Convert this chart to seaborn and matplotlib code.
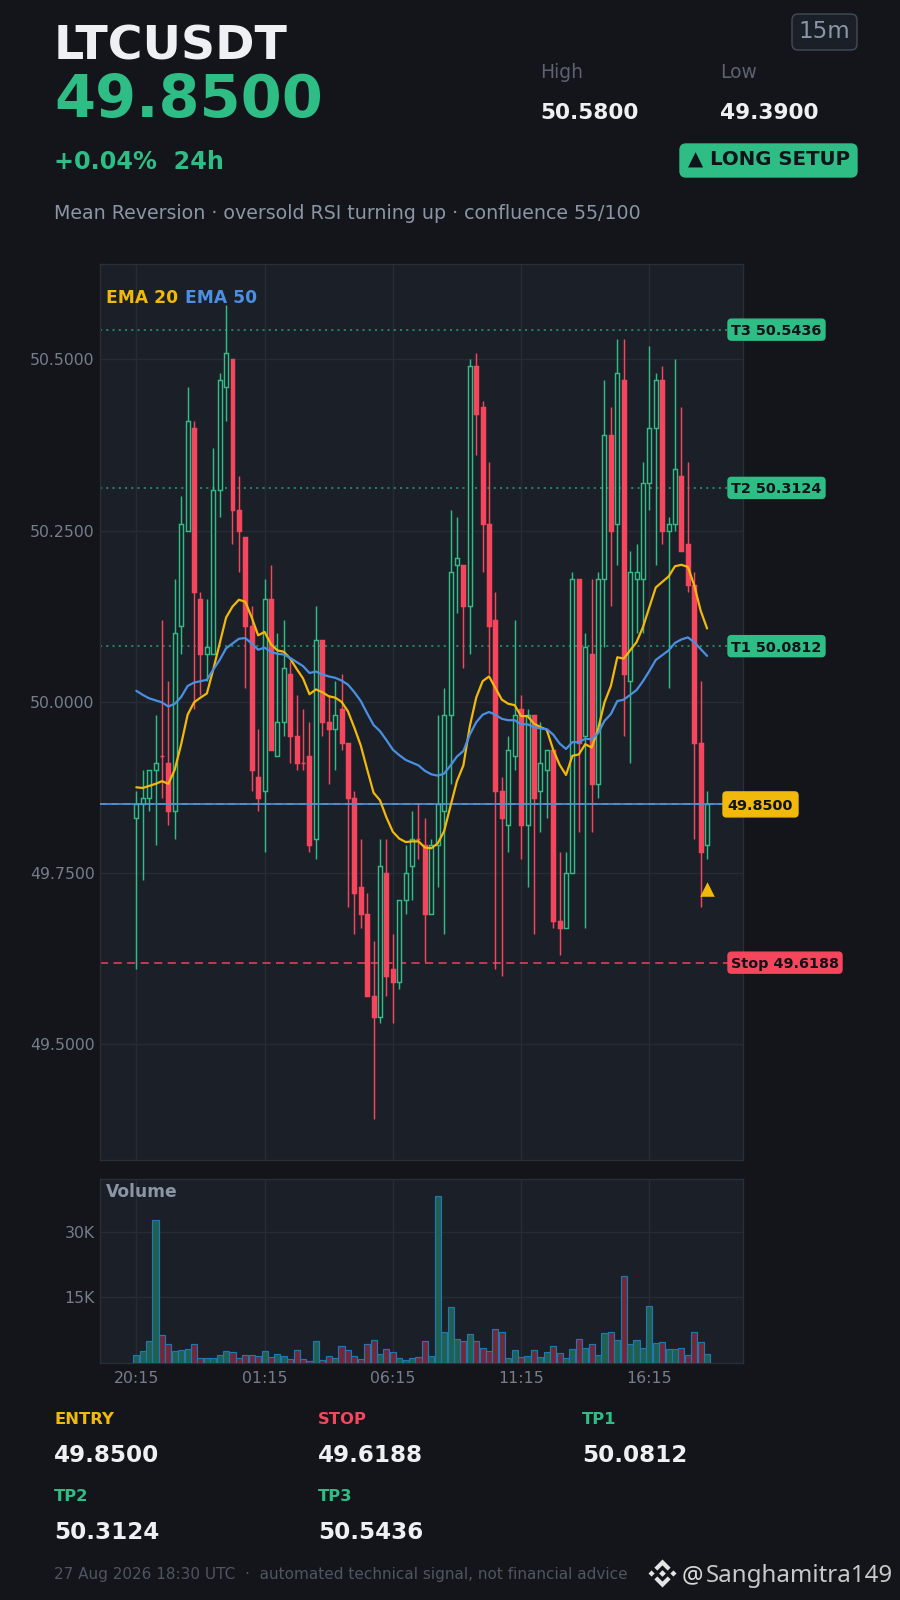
import matplotlib
matplotlib.use("Agg")
import matplotlib.pyplot as plt
from matplotlib.patches import FancyBboxPatch, Polygon
import numpy as np
import pandas as pd
import seaborn as sns

# Values, one entry per 15m candle
times = ["20:15", "01:15", "06:15", "11:15", "16:15"]
y_ticks = [49.5, 49.75, 50.0, 50.25, 50.5]
vol_ticks = [15000, 30000]
vol_tick_labels = ["15K", "30K"]

opens = [49.83, 49.85, 49.86, 49.90, 49.92, 49.91, 49.84, 50.11, 50.25, 50.40,
         50.15, 50.07, 50.07, 50.31, 50.46, 50.50, 50.28, 50.24, 50.11, 49.89,
         49.87, 50.15, 49.92, 49.97, 50.04, 49.95, 49.91, 49.92, 49.80, 50.09,
         49.97, 49.96, 49.99, 49.94, 49.86, 49.73, 49.69, 49.57, 49.54, 49.75,
         49.61, 49.59, 49.71, 49.76, 49.80, 49.79, 49.69, 49.79, 49.84, 49.98,
         50.20, 50.20, 50.14, 50.49, 50.43, 50.26, 50.12, 49.87, 49.82, 49.92,
         49.99, 49.82, 49.98, 49.87, 49.90, 49.93, 49.68, 49.67, 49.75, 50.18,
         49.95, 50.07, 49.88, 50.18, 50.39, 50.26, 50.47, 50.03, 50.18, 50.18,
         50.32, 50.40, 50.47, 50.25, 50.26, 50.33, 50.23, 50.17, 49.94, 49.79]
closes = [49.85, 49.86, 49.90, 49.91, 49.92, 49.84, 50.10, 50.26, 50.41, 50.16,
          50.07, 50.08, 50.31, 50.47, 50.51, 50.28, 50.25, 50.11, 49.90, 49.86,
          50.15, 49.93, 49.97, 50.05, 49.95, 49.91, 49.91, 49.79, 50.09, 49.97,
          49.96, 49.98, 49.94, 49.86, 49.72, 49.69, 49.57, 49.54, 49.76, 49.60,
          49.59, 49.71, 49.75, 49.80, 49.80, 49.69, 49.79, 49.85, 49.98, 50.19,
          50.21, 50.14, 50.49, 50.42, 50.26, 50.11, 49.87, 49.83, 49.93, 49.98,
          49.82, 49.98, 49.86, 49.91, 49.93, 49.68, 49.67, 49.75, 50.18, 49.94,
          50.08, 49.88, 50.18, 50.39, 50.25, 50.48, 50.04, 50.19, 50.19, 50.32,
          50.40, 50.47, 50.25, 50.26, 50.34, 50.22, 50.17, 49.94, 49.78, 49.85]
highs = [49.87, 49.90, 49.90, 49.98, 50.12, 50.03, 50.18, 50.30, 50.46, 50.41,
         50.16, 50.15, 50.37, 50.48, 50.58, 50.50, 50.33, 50.24, 50.14, 49.96,
         50.18, 50.20, 50.10, 50.12, 50.06, 50.01, 49.99, 49.97, 50.14, 50.09,
         50.01, 50.03, 50.04, 49.94, 49.87, 49.80, 49.72, 49.65, 49.80, 49.80,
         49.66, 49.71, 49.79, 49.84, 49.85, 49.83, 49.80, 49.98, 50.02, 50.28,
         50.27, 50.20, 50.50, 50.51, 50.44, 50.35, 50.16, 49.89, 49.95, 50.12,
         50.01, 49.99, 49.98, 49.97, 49.93, 49.93, 49.78, 49.78, 50.19, 50.18,
         50.10, 50.18, 50.19, 50.47, 50.43, 50.53, 50.53, 50.22, 50.23, 50.35,
         50.52, 50.48, 50.49, 50.27, 50.50, 50.43, 50.35, 50.19, 50.03, 49.87]
lows = [49.61, 49.74, 49.84, 49.79, 49.86, 49.82, 49.80, 50.07, 50.25, 49.99,
        50.01, 50.03, 50.07, 50.27, 50.41, 50.23, 50.19, 50.02, 49.87, 49.84,
        49.78, 49.93, 49.92, 49.95, 49.91, 49.90, 49.90, 49.78, 49.77, 49.95,
        49.88, 49.90, 49.93, 49.70, 49.66, 49.67, 49.57, 49.39, 49.53, 49.57,
        49.53, 49.58, 49.69, 49.71, 49.77, 49.62, 49.69, 49.73, 49.66, 49.88,
        50.13, 50.05, 50.07, 50.36, 50.19, 50.04, 49.61, 49.60, 49.78, 49.90,
        49.77, 49.73, 49.66, 49.81, 49.83, 49.67, 49.63, 49.67, 49.75, 49.81,
        49.67, 49.81, 49.86, 50.08, 50.14, 50.20, 49.95, 49.91, 50.10, 50.10,
        50.28, 50.20, 50.23, 50.02, 50.25, 50.22, 50.16, 49.80, 49.70, 49.77]
ema20 = [49.875, 49.874, 49.877, 49.880, 49.884, 49.880, 49.901, 49.938, 49.981, 49.999,
         50.006, 50.012, 50.047, 50.085, 50.123, 50.139, 50.149, 50.146, 50.123, 50.097,
         50.102, 50.084, 50.075, 50.073, 50.063, 50.048, 50.034, 50.011, 50.018, 50.014,
         50.008, 50.006, 50.000, 49.986, 49.962, 49.936, 49.901, 49.867, 49.856, 49.831,
         49.810, 49.800, 49.795, 49.796, 49.796, 49.787, 49.786, 49.793, 49.811, 49.848,
         49.884, 49.907, 49.964, 50.006, 50.030, 50.037, 50.020, 50.003, 49.997, 49.995,
         49.979, 49.979, 49.968, 49.963, 49.959, 49.930, 49.908, 49.893, 49.921, 49.923,
         49.938, 49.933, 49.960, 49.999, 50.023, 50.065, 50.063, 50.075, 50.087, 50.109,
         50.138, 50.167, 50.175, 50.183, 50.198, 50.200, 50.197, 50.170, 50.133, 50.107]
ema50 = [50.016, 50.010, 50.005, 50.002, 49.999, 49.993, 49.997, 50.007, 50.023, 50.028,
         50.030, 50.032, 50.047, 50.061, 50.078, 50.085, 50.092, 50.093, 50.085, 50.076,
         50.079, 50.073, 50.070, 50.069, 50.064, 50.058, 50.052, 50.042, 50.044, 50.040,
         50.037, 50.035, 50.031, 50.025, 50.014, 50.001, 49.983, 49.966, 49.957, 49.944,
         49.930, 49.922, 49.915, 49.911, 49.907, 49.899, 49.894, 49.892, 49.895, 49.907,
         49.920, 49.928, 49.952, 49.970, 49.981, 49.985, 49.981, 49.975, 49.973, 49.973,
         49.967, 49.967, 49.963, 49.961, 49.960, 49.952, 49.939, 49.931, 49.941, 49.941,
         49.946, 49.945, 49.954, 49.972, 49.982, 50.001, 50.003, 50.010, 50.017, 50.030,
         50.045, 50.061, 50.068, 50.075, 50.086, 50.091, 50.094, 50.087, 50.077, 50.067]
volumes = [1800, 2700, 5000, 32700, 6400, 4350, 2700, 3000, 3200, 4350,
           1070, 1070, 1070, 1800, 2700, 2500, 1070, 1800, 1800, 1600,
           2700, 1400, 2060, 1600, 900, 3000, 900, 450, 5000, 700,
           1600, 1150, 3900, 3000, 1600, 900, 4350, 5300, 2060, 3200,
           2500, 1150, 700, 1150, 1400, 5000, 1600, 38300, 7100, 12800,
           5500, 5000, 6600, 5000, 3400, 2700, 7800, 7100, 1150, 3000,
           1400, 1600, 3000, 1400, 2500, 3900, 2300, 1150, 3200, 5500,
           3400, 4350, 1800, 6900, 7100, 5300, 19900, 4350, 5300, 3400,
           13000, 4600, 4800, 3200, 3200, 3400, 1800, 7100, 4800, 2060]

price = 49.85
entry = 49.85
stop = 49.6188
tp1 = 50.0812
tp2 = 50.3124
tp3 = 50.5436
signal_price = 49.726

BG = "#13151a"
PANEL = "#1b1f27"
GRID = "#272b34"
GREEN = "#2ebd85"
RED = "#f6465d"
YELLOW = "#f0b90b"
BLUE = "#4a90e2"
WHITE = "#eef0f4"
MUTED = "#8b95a5"
DIM = "#5b6270"
TICK = "#767e8c"

sns.set_theme(style="dark", rc={"figure.facecolor": BG, "axes.facecolor": PANEL, "savefig.facecolor": BG})
plt.rcParams["font.family"] = ["DejaVu Sans"]

df = pd.DataFrame({"i": np.arange(len(opens)), "open": opens, "high": highs, "low": lows,
                   "close": closes, "ema20": ema20, "ema50": ema50, "volume": volumes})
df["dir"] = np.where(df["close"] > df["open"], "up", "down")

W, H = 900, 1600
fig = plt.figure(figsize=(W / 100, H / 100), dpi=100)


def px_axes(x0, y0, x1, y1):
    return fig.add_axes([x0 / W, 1 - y1 / H, (x1 - x0) / W, (y1 - y0) / H])


ax = px_axes(100, 264, 743, 1160)
vol = px_axes(100, 1179, 743, 1363)
over = fig.add_axes([0, 0, 1, 1], zorder=10)
over.set_xlim(0, W)
over.set_ylim(H, 0)
over.axis("off")

# ====== Candles ======
up = df[df["dir"] == "up"]
down = df[df["dir"] == "down"]
ax.vlines(up["i"], up["low"], up["high"], color=GREEN, lw=1.05, zorder=2)
ax.vlines(down["i"], down["low"], down["high"], color=RED, lw=1.05, zorder=2)
ax.bar(up["i"], up["close"] - up["open"], bottom=up["open"], width=0.62,
       facecolor=PANEL, edgecolor=GREEN, linewidth=1.05, zorder=3)
ax.bar(down["i"], down["close"] - down["open"], bottom=down["open"], width=0.62,
       facecolor=RED, edgecolor=RED, linewidth=1.05, zorder=3)

# Levels
for lvl in [tp1, tp2, tp3]:
    ax.axhline(lvl, color=GREEN, lw=1.25, alpha=0.7, ls=(0, (1.2, 2.4)), zorder=1.5)
ax.axhline(stop, color=RED, lw=1.3, alpha=0.8, ls=(0, (4.5, 3)), zorder=1.5)
ax.axhline(entry, color=YELLOW, lw=1.2, alpha=0.7, ls=(0, (4, 3)), zorder=4)
ax.axhline(price, color=BLUE, lw=1.3, alpha=0.95, zorder=4)

# EMAs
sns.lineplot(data=df, x="i", y="ema20", color=YELLOW, lw=1.6, ax=ax, zorder=5, errorbar=None, legend=False)
sns.lineplot(data=df, x="i", y="ema50", color=BLUE, lw=1.6, ax=ax, zorder=5, errorbar=None, legend=False)

# Long signal marker on the last candle
sns.scatterplot(x=[df["i"].iloc[-1]], y=[signal_price], marker="^", s=110, color=YELLOW,
                linewidth=0, ax=ax, zorder=6, legend=False)

# ====== Volume ======
sns.barplot(data=df, x="i", y="volume", hue="dir", native_scale=True, dodge=False, width=0.95,
            palette={"up": "#1f6050", "down": "#73283a"}, saturation=1,
            edgecolor="#1f77b4", linewidth=0.85, ax=vol, legend=False, zorder=3)

tick_pos = np.arange(len(times)) * 20
for a in (ax, vol):
    a.set_xlim(-5.66, 94.6)
    a.set_xticks(tick_pos)
    a.set_xlabel("")
    a.set_ylabel("")
    a.grid(True, color=GRID, lw=1.0)
    a.set_axisbelow(True)
    a.tick_params(length=0, colors=TICK, labelsize=11.3, pad=4)
    for s in a.spines.values():
        s.set_color("#2a2e37")
        s.set_linewidth(1.0)
ax.set_ylim(49.3305, 50.6395)
ax.set_yticks(y_ticks)
ax.set_yticklabels([f"{t:.4f}" for t in y_ticks])
ax.tick_params(labelbottom=False)
vol.set_ylim(0, 42130)
vol.set_yticks(vol_ticks)
vol.set_yticklabels(vol_tick_labels)
vol.set_xticklabels(times)
vol.tick_params(axis="x", pad=6)

ax.text(106, 298, "EMA 20", color=YELLOW, fontsize=12.3, fontweight="bold", va="center",
        transform=over.transData, zorder=7)
ax.text(185, 298, "EMA 50", color=BLUE, fontsize=12.3, fontweight="bold", va="center",
        transform=over.transData, zorder=7)
vol.text(106, 1192, "Volume", color=MUTED, fontsize=12.3, fontweight="bold", va="center",
         transform=over.transData, zorder=7)


# ====== Overlay texts and badges (pixel coordinates) ======
def label(x, y, s, color, size, weight="normal", ha="left", va="baseline", family=None):
    over.text(x, y, s, color=color, fontsize=size, fontweight=weight, ha=ha, va=va, family=family)


def box(x0, y0, x1, y1, face, edge=None, radius=5):
    over.add_patch(FancyBboxPatch((x0 + radius, y0 + radius), x1 - x0 - 2 * radius, y1 - y0 - 2 * radius,
                                  boxstyle=f"round,pad={radius},rounding_size={radius}",
                                  facecolor=face, edgecolor=edge or face, lw=1.0))


def level_badge(x0, x1, level, text, face, height=21):
    yc = H - ax.transData.transform((0, level))[1]
    box(x0, yc - height / 2, x1, yc + height / 2, face, radius=3.5)
    over.text((x0 + x1) / 2, yc, text, color="#10141a", fontsize=10.4, fontweight="bold",
              ha="center", va="center_baseline")


level_badge(728, 825, tp3, f"T3 {tp3:.4f}", GREEN)
level_badge(728, 825, tp2, f"T2 {tp2:.4f}", GREEN)
level_badge(728, 825, tp1, f"T1 {tp1:.4f}", GREEN)
level_badge(728, 842, stop, f"Stop {stop:.4f}", RED)
level_badge(723, 798, price, f"{price:.4f}", YELLOW, height=25)

label(54, 59, "LTCUSDT", WHITE, 34.1, "bold")
label(54, 117, f"{price:.4f}", GREEN, 42.5, "bold")
label(54, 169, "+0.04%  24h", GREEN, 17.2, "bold")
label(54, 219, "Mean Reversion · oversold RSI turning up · confluence 55/100", MUTED, 13.7)
label(540, 78, "High", DIM, 13.5)
label(720, 78, "Low", DIM, 13.5)
label(540, 119, "50.5800", WHITE, 15.6, "bold")
label(720, 119, "49.3900", WHITE, 15.6, "bold")

box(792, 14, 857, 50, PANEL, "#454b57", radius=6)
label(824.5, 32, "15m", MUTED, 16.5, ha="center", va="center")
box(680, 144, 857, 177, GREEN, radius=6)
label(768.5, 159, "▲ LONG SETUP", "#10141a", 14.2, "bold", ha="center", va="center")

# Bottom stats
stat_rows = [(54, 1424, 1462, "ENTRY", YELLOW, entry), (318, 1424, 1462, "STOP", RED, stop),
             (582, 1424, 1462, "TP1", GREEN, tp1), (54, 1501, 1539, "TP2", GREEN, tp2),
             (318, 1501, 1539, "TP3", GREEN, tp3)]
for x, y_lab, y_val, name, col, val in stat_rows:
    label(x, y_lab, name, col, 11.8, "bold")
    label(x, y_val, f"{val:.4f}", WHITE, 16.6, "bold")

label(54, 1579, "27 Aug 2026 18:30 UTC  ·  automated technical signal, not financial advice", "#4f5561", 11)

# Watermark logo
cx, cy, r = 662.5, 1573.5, 14
logo_col = "#e4e4e4"
for dx, dy, k in [(0, 0, 0.24), (-0.78, 0, 0.22), (0.78, 0, 0.22)]:
    over.add_patch(Polygon([(cx + (dx - k) * r, cy + dy), (cx + dx * r, cy - k * r),
                            (cx + (dx + k) * r, cy + dy), (cx + dx * r, cy + k * r)], color=logo_col, lw=0))
chev = [(0, -1), (0.58, -0.42), (0.37, -0.21), (0, -0.58), (-0.37, -0.21), (-0.58, -0.42)]
for sgn in (1, -1):
    over.add_patch(Polygon([(cx + a * r, cy + sgn * b * r) for a, b in chev], color=logo_col, lw=0))
label(682, 1582, "@", "#d8d8d8", 17.3, family="Noto Sans")
label(706, 1582, "Sanghamitra149", "#c8c8c8", 17.3, family="Noto Sans")

fig.savefig("out.png", dpi=100)
